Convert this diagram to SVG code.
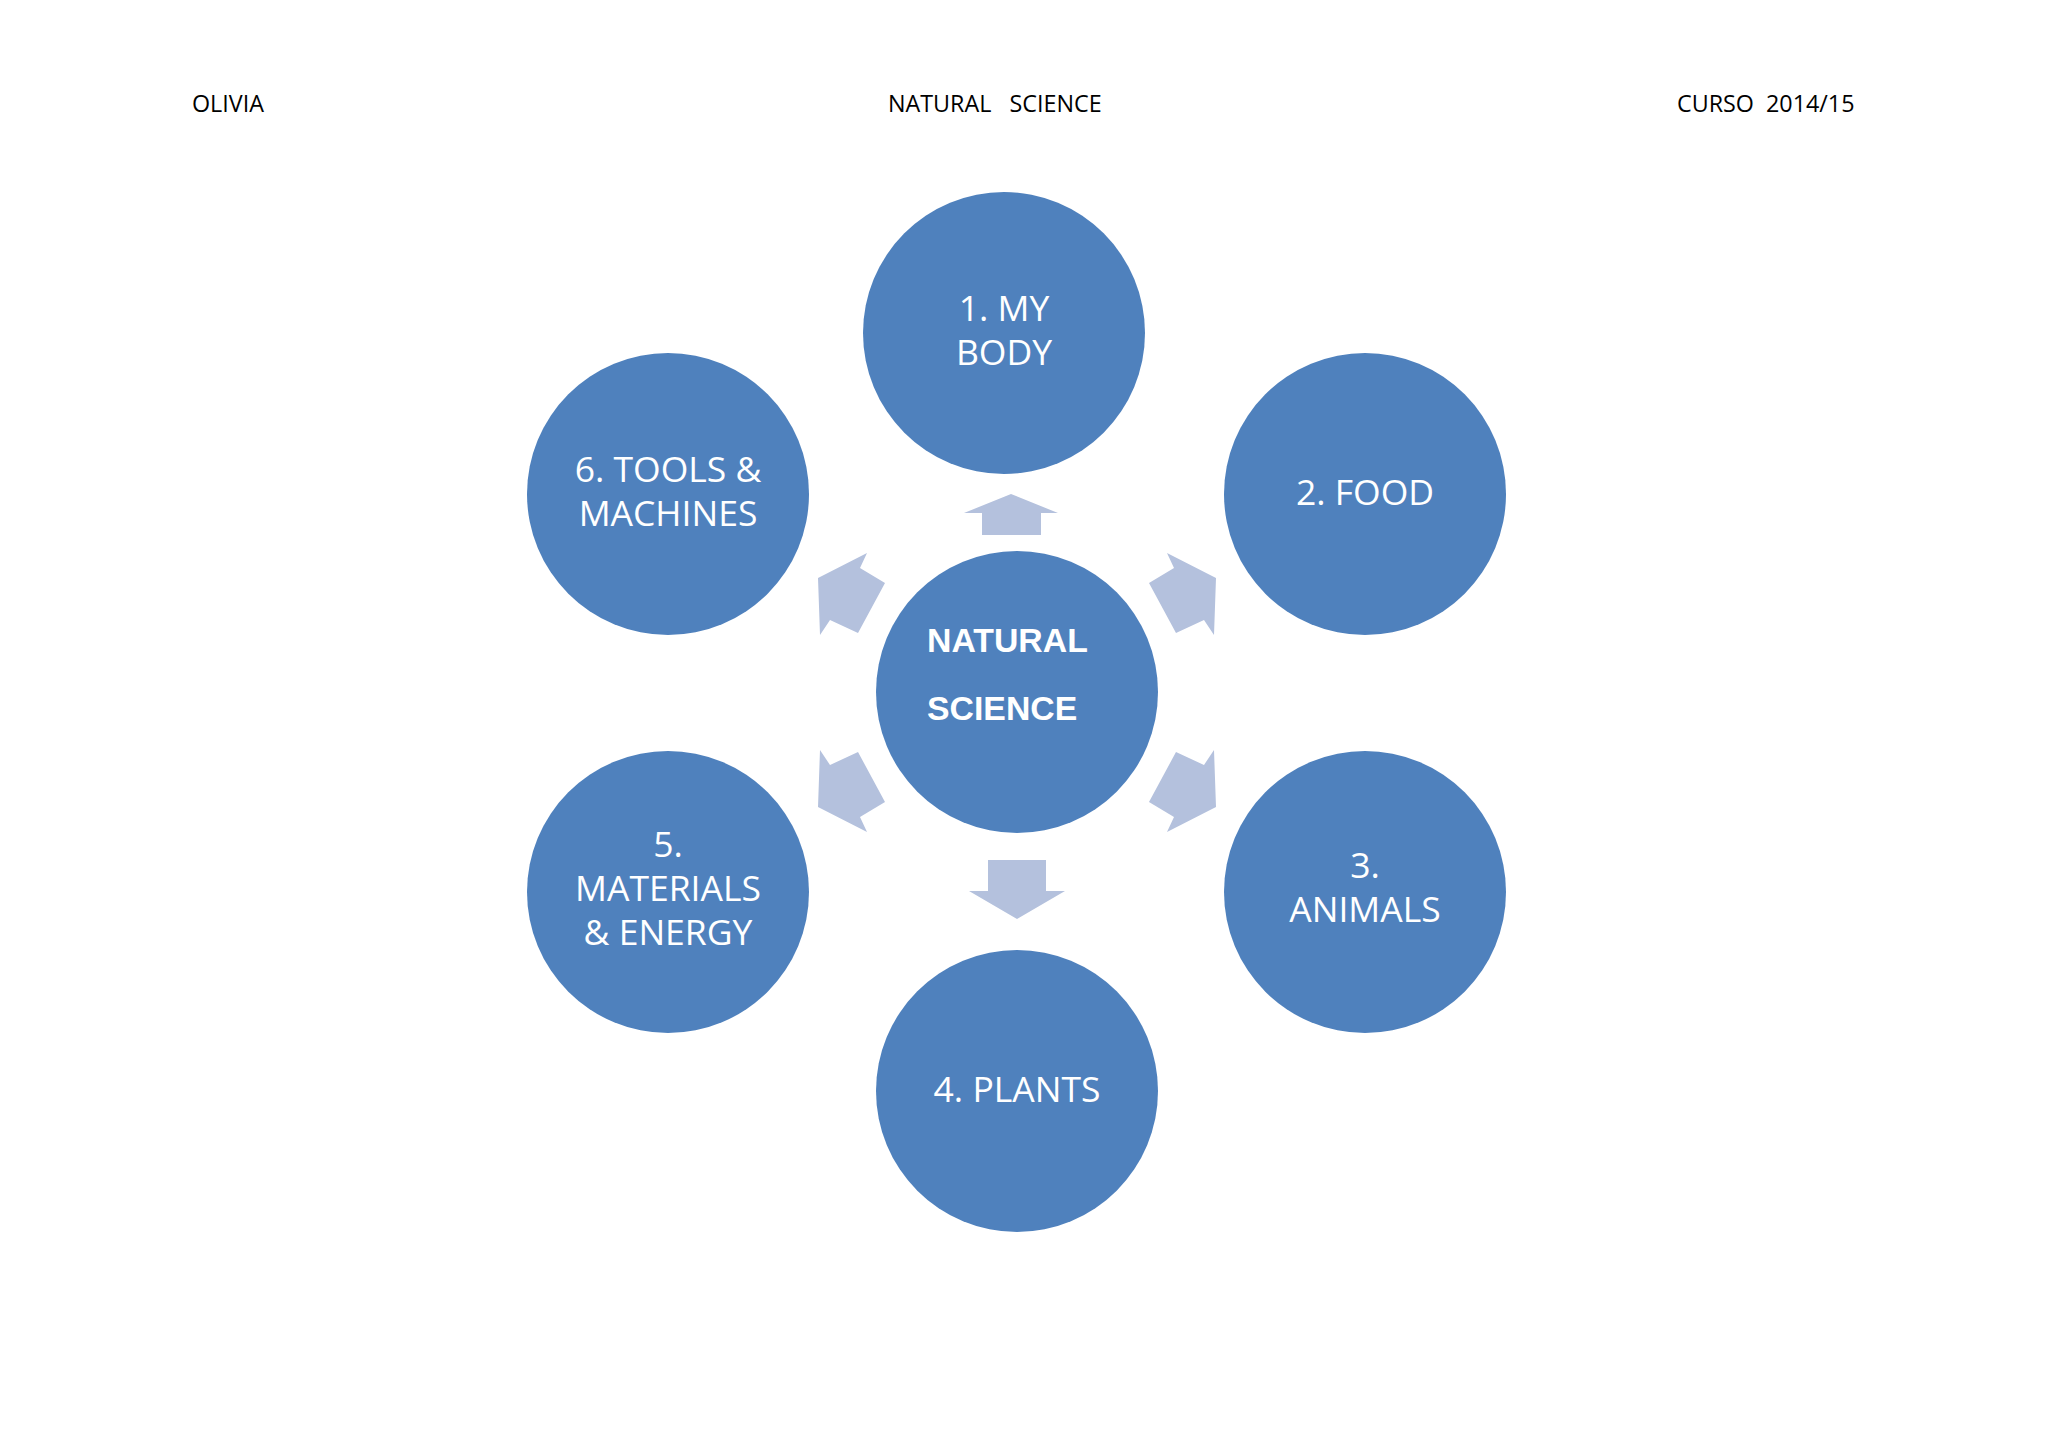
<svg xmlns="http://www.w3.org/2000/svg" width="2048" height="1447" viewBox="0 0 2048 1447">
<style>
.hdr{font-family:"Open Sans","Liberation Sans",sans-serif;font-size:23.3px;fill:#000;white-space:pre}
.node circle{fill:#4F81BD}
.lbl{font-family:"Open Sans","Liberation Sans",sans-serif;font-size:35.5px;fill:#fff;text-anchor:middle}
.ctr{font-family:"Liberation Sans",Arial,sans-serif;font-size:33.8px;font-weight:bold;fill:#fff}
.arr{fill:#B4C1DD}
</style>
<rect width="2048" height="1447" fill="#fff"/>
<g id="header">
<text class="hdr" x="192" y="112">OLIVIA</text>
<text class="hdr" x="888" y="112">NATURAL   SCIENCE</text>
<text class="hdr" x="1677" y="112">CURSO  2014/15</text>
</g>
<g id="connectors">
<polygon class="arr" points="1011,494 1058,513 1041,513 1041,535 982,535 982,513 964,513"/>
<polygon class="arr" points="988,860 1046,860 1046,891 1065,891 1017,919 969,891 988,891"/>
<polygon class="arr" points="867,553 860,568 885,583 858,633 830,620 820,635 818,578"/>
<polygon class="arr" points="1167,553 1174,568 1149,583 1176,633 1204,620 1214,635 1216,578"/>
<polygon class="arr" points="867,832 860,817 885,802 858,752 830,765 820,750 818,807"/>
<polygon class="arr" points="1167,832 1174,817 1149,802 1176,752 1204,765 1214,750 1216,807"/>
</g>
<g id="node-center" class="node">
<circle cx="1017" cy="692" r="141"/>
<text class="ctr" x="927" y="652">NATURAL</text>
<text class="ctr" x="927" y="720">SCIENCE</text>
</g>
<g id="node-1" class="node">
<circle cx="1004" cy="333" r="141"/>
<text class="lbl" x="1004" y="321">1. MY</text>
<text class="lbl" x="1004" y="365">BODY</text>
</g>
<g id="node-2" class="node">
<circle cx="1365" cy="494" r="141"/>
<text class="lbl" x="1365" y="505">2. FOOD</text>
</g>
<g id="node-3" class="node">
<circle cx="1365" cy="892" r="141"/>
<text class="lbl" x="1365" y="878">3.</text>
<text class="lbl" x="1365" y="922">ANIMALS</text>
</g>
<g id="node-4" class="node">
<circle cx="1017" cy="1091" r="141"/>
<text class="lbl" x="1017" y="1102">4. PLANTS</text>
</g>
<g id="node-5" class="node">
<circle cx="668" cy="892" r="141"/>
<text class="lbl" x="668" y="857">5.</text>
<text class="lbl" x="668" y="901">MATERIALS</text>
<text class="lbl" x="668" y="945">&amp; ENERGY</text>
</g>
<g id="node-6" class="node">
<circle cx="668" cy="494" r="141"/>
<text class="lbl" x="668" y="482">6. TOOLS &amp;</text>
<text class="lbl" x="668" y="526">MACHINES</text>
</g>
</svg>
